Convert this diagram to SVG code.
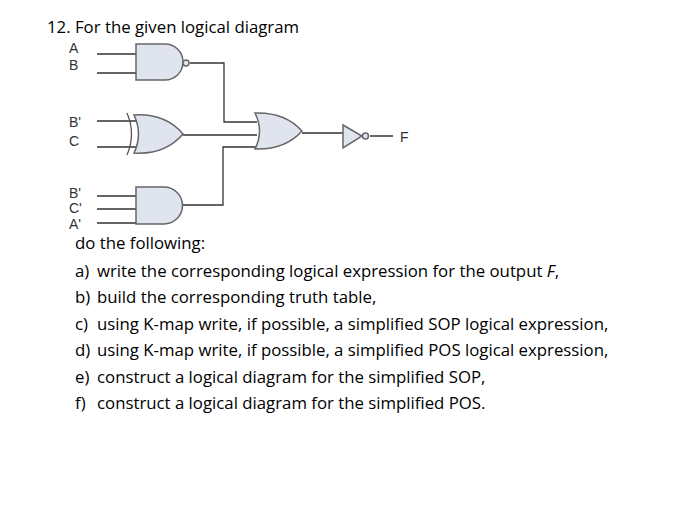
<svg xmlns="http://www.w3.org/2000/svg" width="700" height="525" viewBox="0 0 700 525">
<style>
.t{font-family:"Open Sans","Liberation Sans",sans-serif;font-size:16.8px;fill:#000}
.l{font-family:"Liberation Sans",Arial,sans-serif;font-size:14px;fill:#333}
.g{fill:#dfe4ee;stroke:#666;stroke-width:1.5}
.w{fill:none;stroke:#333;stroke-width:1.3}
</style>
<rect width="700" height="525" fill="#fff"/>
<text class="t" x="47" y="33">12.  For the given logical diagram</text>
<g id="labels">
<text class="l" x="69" y="53">A</text><text class="l" x="69" y="70">B</text>
<text class="l" x="69" y="127">B'</text><text class="l" x="69" y="146">C</text>
<text class="l" x="69" y="198">B'</text><text class="l" x="69" y="213">C'</text><text class="l" x="69" y="229">A'</text>
<text class="l" x="400" y="142">F</text>
</g>
<g id="connectors">
<path class="w" d="M97 54H136M97 73H136M190 63H224V122H257"/>
<path class="w" d="M97 121H136M97 147H136M183 135H257"/>
<path class="w" d="M97 196H136M97 209H136M97 223H136M183 205H223V147H257"/>
<path class="w" d="M302 133H343M370 136H393"/>
<path d="M127 113Q136 134 127 155" fill="none" stroke="#555" stroke-width="1.3"/>
</g>
<g id="nand"><path class="g" d="M136 44H165A18 18 0 0 1 165 80H136Z"/><circle class="g" cx="186" cy="63" r="3"/></g>
<g id="xor"><path class="g" d="M134 115Q165 113 183 134Q165 155 134 153Q143 134 134 115Z"/></g>
<g id="and3"><path class="g" d="M136 187H164A18.5 18.5 0 0 1 164 224H136Z"/></g>
<g id="or3"><path class="g" d="M255 113Q285 112 302 131Q285 150 255 149Q264 131 255 113Z"/></g>
<g id="not"><path class="g" d="M343 125L362 136L343 148Z"/><circle class="g" cx="365.5" cy="136" r="3"/></g>
<g id="text">
<text class="t" x="75" y="249">do the following:</text>
<text class="t" x="75" y="277">a)</text><text class="t" x="97" y="277">write the corresponding logical expression for the output <tspan font-style="italic">F</tspan>,</text>
<text class="t" x="75" y="303">b)</text><text class="t" x="97" y="303">build the corresponding truth table,</text>
<text class="t" x="75" y="330">c)</text><text class="t" x="97" y="330">using K-map write, if possible, a simplified SOP logical expression,</text>
<text class="t" x="75" y="356">d)</text><text class="t" x="97" y="356">using K-map write, if possible, a simplified POS logical expression,</text>
<text class="t" x="75" y="383">e)</text><text class="t" x="97" y="383">construct a logical diagram for the simplified SOP,</text>
<text class="t" x="75" y="409">f)</text><text class="t" x="97" y="409">construct a logical diagram for the simplified POS.</text>
</g>
</svg>
